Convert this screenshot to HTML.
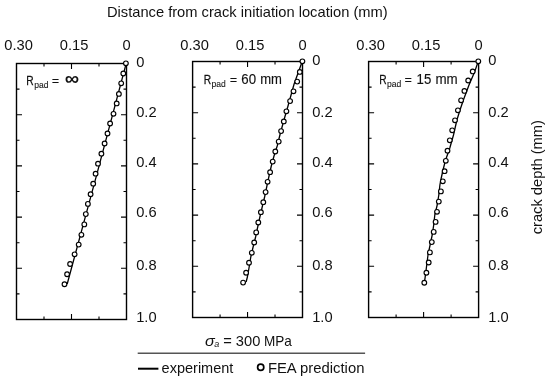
<!DOCTYPE html><html><head><meta charset="utf-8"><style>html,body{margin:0;padding:0;background:#fff;width:550px;height:379px;overflow:hidden}svg{display:block}text{font-family:"Liberation Sans", Arial, sans-serif;fill:#111}</style></head><body>
<svg width="550" height="379" viewBox="0 0 550 379">
<rect width="550" height="379" fill="#fff"/>
<text transform="translate(106.95,16.60) scale(1.0,1.045)" font-size="14.7">Distance from crack initiation location (mm)</text>
<text transform="translate(542.20,234.30) rotate(-90)" font-size="14.7">crack depth (mm)</text>
<rect x="16.5" y="63.5" width="110.00" height="256.00" fill="none" stroke="#000" stroke-width="1.4"/>
<path d="M44.00 63.5v3M44.00 319.5v-3M71.50 63.5v5.6M71.50 319.5v-5.6M99.00 63.5v3M99.00 319.5v-3M16.5 89.10h3M126.5 89.10h-3M16.5 114.70h5.5M126.5 114.70h-5.5M16.5 140.30h3M126.5 140.30h-3M16.5 165.90h5.5M126.5 165.90h-5.5M16.5 191.50h3M126.5 191.50h-3M16.5 217.10h5.5M126.5 217.10h-5.5M16.5 242.70h3M126.5 242.70h-3M16.5 268.30h5.5M126.5 268.30h-5.5M16.5 293.90h3M126.5 293.90h-3" stroke="#000" stroke-width="1.1" fill="none"/>
<text transform="translate(18.50,49.60) scale(1.0,1.045)" font-size="14.7" text-anchor="middle">0.30</text>
<text transform="translate(74.00,49.60) scale(1.0,1.045)" font-size="14.7" text-anchor="middle">0.15</text>
<text transform="translate(126.50,49.60) scale(1.0,1.045)" font-size="14.7" text-anchor="middle">0</text>
<text transform="translate(136.15,66.90) scale(1.0,1.045)" font-size="14.7">0</text>
<text transform="translate(136.15,117.00) scale(1.0,1.045)" font-size="14.7">0.2</text>
<text transform="translate(136.15,166.70) scale(1.0,1.045)" font-size="14.7">0.4</text>
<text transform="translate(136.15,217.40) scale(1.0,1.045)" font-size="14.7">0.6</text>
<text transform="translate(136.15,269.50) scale(1.0,1.045)" font-size="14.7">0.8</text>
<text transform="translate(136.15,321.50) scale(1.0,1.045)" font-size="14.7">1.0</text>
<rect x="192.6" y="61.5" width="109.90" height="256.00" fill="none" stroke="#000" stroke-width="1.4"/>
<path d="M220.07 61.5v3M220.07 317.5v-3M247.55 61.5v5.6M247.55 317.5v-5.6M275.02 61.5v3M275.02 317.5v-3M192.6 87.10h3M302.5 87.10h-3M192.6 112.70h5.5M302.5 112.70h-5.5M192.6 138.30h3M302.5 138.30h-3M192.6 163.90h5.5M302.5 163.90h-5.5M192.6 189.50h3M302.5 189.50h-3M192.6 215.10h5.5M302.5 215.10h-5.5M192.6 240.70h3M302.5 240.70h-3M192.6 266.30h5.5M302.5 266.30h-5.5M192.6 291.90h3M302.5 291.90h-3" stroke="#000" stroke-width="1.1" fill="none"/>
<text transform="translate(194.60,49.60) scale(1.0,1.045)" font-size="14.7" text-anchor="middle">0.30</text>
<text transform="translate(250.10,49.60) scale(1.0,1.045)" font-size="14.7" text-anchor="middle">0.15</text>
<text transform="translate(302.50,49.60) scale(1.0,1.045)" font-size="14.7" text-anchor="middle">0</text>
<text transform="translate(312.15,65.20) scale(1.0,1.045)" font-size="14.7">0</text>
<text transform="translate(312.15,116.80) scale(1.0,1.045)" font-size="14.7">0.2</text>
<text transform="translate(312.15,166.70) scale(1.0,1.045)" font-size="14.7">0.4</text>
<text transform="translate(312.15,217.40) scale(1.0,1.045)" font-size="14.7">0.6</text>
<text transform="translate(312.15,269.50) scale(1.0,1.045)" font-size="14.7">0.8</text>
<text transform="translate(312.15,321.50) scale(1.0,1.045)" font-size="14.7">1.0</text>
<rect x="368.6" y="61.5" width="110.00" height="256.00" fill="none" stroke="#000" stroke-width="1.4"/>
<path d="M396.10 61.5v3M396.10 317.5v-3M423.60 61.5v5.6M423.60 317.5v-5.6M451.10 61.5v3M451.10 317.5v-3M368.6 87.10h3M478.6 87.10h-3M368.6 112.70h5.5M478.6 112.70h-5.5M368.6 138.30h3M478.6 138.30h-3M368.6 163.90h5.5M478.6 163.90h-5.5M368.6 189.50h3M478.6 189.50h-3M368.6 215.10h5.5M478.6 215.10h-5.5M368.6 240.70h3M478.6 240.70h-3M368.6 266.30h5.5M478.6 266.30h-5.5M368.6 291.90h3M478.6 291.90h-3" stroke="#000" stroke-width="1.1" fill="none"/>
<text transform="translate(370.60,49.60) scale(1.0,1.045)" font-size="14.7" text-anchor="middle">0.30</text>
<text transform="translate(426.10,49.60) scale(1.0,1.045)" font-size="14.7" text-anchor="middle">0.15</text>
<text transform="translate(478.60,49.60) scale(1.0,1.045)" font-size="14.7" text-anchor="middle">0</text>
<text transform="translate(488.25,65.20) scale(1.0,1.045)" font-size="14.7">0</text>
<text transform="translate(488.25,116.80) scale(1.0,1.045)" font-size="14.7">0.2</text>
<text transform="translate(488.25,166.70) scale(1.0,1.045)" font-size="14.7">0.4</text>
<text transform="translate(488.25,217.40) scale(1.0,1.045)" font-size="14.7">0.6</text>
<text transform="translate(488.25,269.50) scale(1.0,1.045)" font-size="14.7">0.8</text>
<text transform="translate(488.25,321.50) scale(1.0,1.045)" font-size="14.7">1.0</text>
<g>
<text transform="translate(26.36,84.50) scale(0.76,1.0)" font-size="13.5" stroke="#111" stroke-width="0.25">R</text>
<text transform="translate(34.15,87.50) scale(0.93,1.0)" font-size="9.2" stroke="#111" stroke-width="0.08">pad</text>
<text transform="translate(51.68,84.80)" font-size="12.8">=</text>
<text transform="translate(64.70,84.55) scale(1.0,0.97)" font-size="20" font-weight="bold">∞</text>
<text transform="translate(203.76,83.80) scale(0.76,1.0)" font-size="13.5" stroke="#111" stroke-width="0.25">R</text>
<text transform="translate(211.55,86.80) scale(0.93,1.0)" font-size="9.2" stroke="#111" stroke-width="0.08">pad</text>
<text transform="translate(229.78,84.10)" font-size="12.8">=</text>
<text transform="translate(241.30,84.25) scale(0.935,1.0)" font-size="14.2" stroke="#111" stroke-width="0.15">60</text>
<text transform="translate(260.13,84.25) scale(0.92,1.0)" font-size="14.2" stroke="#111" stroke-width="0.15">mm</text>
<text transform="translate(379.26,83.80) scale(0.76,1.0)" font-size="13.5" stroke="#111" stroke-width="0.25">R</text>
<text transform="translate(387.05,86.80) scale(0.93,1.0)" font-size="9.2" stroke="#111" stroke-width="0.08">pad</text>
<text transform="translate(404.58,84.10)" font-size="12.8">=</text>
<text transform="translate(416.61,83.80) scale(0.93,1.0)" font-size="14.2" stroke="#111" stroke-width="0.15">15</text>
<text transform="translate(435.51,83.80) scale(0.94,1.0)" font-size="14.2" stroke="#111" stroke-width="0.15">mm</text>
</g>
<path d="M126.2,63.3 L97.0,173.7 L67.2,284" fill="none" stroke="#000" stroke-width="1.3" stroke-linejoin="round"/>
<path d="M302.3,61.3 L294.1,84 L288,106 L285.1,116 L280.4,133 L277.2,146 L274,156 L271.3,166 L268.8,177 L266.7,187 L264.6,197 L262.2,207 L259.9,217 L257.7,227 L255.6,237 L253.1,247 L250.8,257 L249.0,268 L247.4,277 L246.1,282" fill="none" stroke="#000" stroke-width="1.3" stroke-linejoin="round"/>
<path d="M478.3,61.3 L474.8,71.4 L469,85 L463.4,100 L460,110 L456.9,120 L453.5,135 L449.8,148 L445.6,160 L443,170 L440.6,181 L439.9,185 L438.8,195 L437.2,205 L434.8,215 L433.7,225 L432.2,235 L430.1,245 L428,255 L426.1,270 L424.6,281.4" fill="none" stroke="#000" stroke-width="1.3" stroke-linejoin="round"/>
<circle cx="125.9" cy="63.3" r="2.35" fill="#fff" stroke="#000" stroke-width="1.15"/>
<circle cx="123.3" cy="73.5" r="2.35" fill="#fff" stroke="#000" stroke-width="1.15"/>
<circle cx="121.2" cy="83.3" r="2.35" fill="#fff" stroke="#000" stroke-width="1.15"/>
<circle cx="118.9" cy="93.9" r="2.35" fill="#fff" stroke="#000" stroke-width="1.15"/>
<circle cx="116.7" cy="103.4" r="2.35" fill="#fff" stroke="#000" stroke-width="1.15"/>
<circle cx="113.5" cy="113.8" r="2.35" fill="#fff" stroke="#000" stroke-width="1.15"/>
<circle cx="110.1" cy="123.5" r="2.35" fill="#fff" stroke="#000" stroke-width="1.15"/>
<circle cx="107.5" cy="133.5" r="2.35" fill="#fff" stroke="#000" stroke-width="1.15"/>
<circle cx="104.6" cy="143.5" r="2.35" fill="#fff" stroke="#000" stroke-width="1.15"/>
<circle cx="101.4" cy="153.7" r="2.35" fill="#fff" stroke="#000" stroke-width="1.15"/>
<circle cx="98" cy="163.7" r="2.35" fill="#fff" stroke="#000" stroke-width="1.15"/>
<circle cx="95.6" cy="173.7" r="2.35" fill="#fff" stroke="#000" stroke-width="1.15"/>
<circle cx="93.2" cy="183.7" r="2.35" fill="#fff" stroke="#000" stroke-width="1.15"/>
<circle cx="90.6" cy="194.2" r="2.35" fill="#fff" stroke="#000" stroke-width="1.15"/>
<circle cx="87.9" cy="203.9" r="2.35" fill="#fff" stroke="#000" stroke-width="1.15"/>
<circle cx="85.8" cy="214.1" r="2.35" fill="#fff" stroke="#000" stroke-width="1.15"/>
<circle cx="84.3" cy="224.4" r="2.35" fill="#fff" stroke="#000" stroke-width="1.15"/>
<circle cx="81.4" cy="234.8" r="2.35" fill="#fff" stroke="#000" stroke-width="1.15"/>
<circle cx="78.7" cy="244.6" r="2.35" fill="#fff" stroke="#000" stroke-width="1.15"/>
<circle cx="74.6" cy="254.3" r="2.35" fill="#fff" stroke="#000" stroke-width="1.15"/>
<circle cx="70.1" cy="264" r="2.35" fill="#fff" stroke="#000" stroke-width="1.15"/>
<circle cx="67.1" cy="274.3" r="2.35" fill="#fff" stroke="#000" stroke-width="1.15"/>
<circle cx="64.5" cy="284.3" r="2.35" fill="#fff" stroke="#000" stroke-width="1.15"/>
<circle cx="302.4" cy="61.3" r="2.35" fill="#fff" stroke="#000" stroke-width="1.15"/>
<circle cx="299.8" cy="71.9" r="2.35" fill="#fff" stroke="#000" stroke-width="1.15"/>
<circle cx="297.2" cy="81.6" r="2.35" fill="#fff" stroke="#000" stroke-width="1.15"/>
<circle cx="293.5" cy="91.3" r="2.35" fill="#fff" stroke="#000" stroke-width="1.15"/>
<circle cx="290.1" cy="101.1" r="2.35" fill="#fff" stroke="#000" stroke-width="1.15"/>
<circle cx="286.4" cy="111.3" r="2.35" fill="#fff" stroke="#000" stroke-width="1.15"/>
<circle cx="283.8" cy="121.4" r="2.35" fill="#fff" stroke="#000" stroke-width="1.15"/>
<circle cx="281.1" cy="131.1" r="2.35" fill="#fff" stroke="#000" stroke-width="1.15"/>
<circle cx="278.7" cy="141.6" r="2.35" fill="#fff" stroke="#000" stroke-width="1.15"/>
<circle cx="275.3" cy="151.5" r="2.35" fill="#fff" stroke="#000" stroke-width="1.15"/>
<circle cx="272.7" cy="161.6" r="2.35" fill="#fff" stroke="#000" stroke-width="1.15"/>
<circle cx="270.1" cy="172.2" r="2.35" fill="#fff" stroke="#000" stroke-width="1.15"/>
<circle cx="267.6" cy="181.8" r="2.35" fill="#fff" stroke="#000" stroke-width="1.15"/>
<circle cx="265.6" cy="192.1" r="2.35" fill="#fff" stroke="#000" stroke-width="1.15"/>
<circle cx="263.3" cy="202.2" r="2.35" fill="#fff" stroke="#000" stroke-width="1.15"/>
<circle cx="260.9" cy="212.2" r="2.35" fill="#fff" stroke="#000" stroke-width="1.15"/>
<circle cx="258.3" cy="222.5" r="2.35" fill="#fff" stroke="#000" stroke-width="1.15"/>
<circle cx="256.2" cy="232.4" r="2.35" fill="#fff" stroke="#000" stroke-width="1.15"/>
<circle cx="254.2" cy="242.5" r="2.35" fill="#fff" stroke="#000" stroke-width="1.15"/>
<circle cx="251.8" cy="252.8" r="2.35" fill="#fff" stroke="#000" stroke-width="1.15"/>
<circle cx="249" cy="262.7" r="2.35" fill="#fff" stroke="#000" stroke-width="1.15"/>
<circle cx="246.1" cy="272.7" r="2.35" fill="#fff" stroke="#000" stroke-width="1.15"/>
<circle cx="243.1" cy="282.6" r="2.35" fill="#fff" stroke="#000" stroke-width="1.15"/>
<circle cx="478.3" cy="61.3" r="2.35" fill="#fff" stroke="#000" stroke-width="1.15"/>
<circle cx="472.7" cy="71.4" r="2.35" fill="#fff" stroke="#000" stroke-width="1.15"/>
<circle cx="468.2" cy="80.5" r="2.35" fill="#fff" stroke="#000" stroke-width="1.15"/>
<circle cx="464.4" cy="90.9" r="2.35" fill="#fff" stroke="#000" stroke-width="1.15"/>
<circle cx="461.1" cy="100.3" r="2.35" fill="#fff" stroke="#000" stroke-width="1.15"/>
<circle cx="457.9" cy="110.3" r="2.35" fill="#fff" stroke="#000" stroke-width="1.15"/>
<circle cx="455" cy="120.3" r="2.35" fill="#fff" stroke="#000" stroke-width="1.15"/>
<circle cx="452.2" cy="130.3" r="2.35" fill="#fff" stroke="#000" stroke-width="1.15"/>
<circle cx="449.8" cy="140.3" r="2.35" fill="#fff" stroke="#000" stroke-width="1.15"/>
<circle cx="447.5" cy="150.7" r="2.35" fill="#fff" stroke="#000" stroke-width="1.15"/>
<circle cx="445.8" cy="160.8" r="2.35" fill="#fff" stroke="#000" stroke-width="1.15"/>
<circle cx="444.6" cy="171.2" r="2.35" fill="#fff" stroke="#000" stroke-width="1.15"/>
<circle cx="442.8" cy="181.3" r="2.35" fill="#fff" stroke="#000" stroke-width="1.15"/>
<circle cx="440.9" cy="191.4" r="2.35" fill="#fff" stroke="#000" stroke-width="1.15"/>
<circle cx="438.8" cy="201.6" r="2.35" fill="#fff" stroke="#000" stroke-width="1.15"/>
<circle cx="437" cy="211.8" r="2.35" fill="#fff" stroke="#000" stroke-width="1.15"/>
<circle cx="435.6" cy="221.9" r="2.35" fill="#fff" stroke="#000" stroke-width="1.15"/>
<circle cx="433.7" cy="231.9" r="2.35" fill="#fff" stroke="#000" stroke-width="1.15"/>
<circle cx="431.8" cy="242.1" r="2.35" fill="#fff" stroke="#000" stroke-width="1.15"/>
<circle cx="429.9" cy="252.4" r="2.35" fill="#fff" stroke="#000" stroke-width="1.15"/>
<circle cx="428.7" cy="262.5" r="2.35" fill="#fff" stroke="#000" stroke-width="1.15"/>
<circle cx="426.4" cy="272.7" r="2.35" fill="#fff" stroke="#000" stroke-width="1.15"/>
<circle cx="424.3" cy="282.8" r="2.35" fill="#fff" stroke="#000" stroke-width="1.15"/>
<text transform="translate(205.00,345.60) scale(1.1,1.045)" font-size="14.7" font-style="italic">σ</text>
<text transform="translate(214.20,347.20)" font-size="9" font-style="italic">a</text>
<text transform="translate(223.20,345.60) scale(1.0,1.045)" font-size="14.7">= 300</text>
<text transform="translate(263.89,345.60) scale(0.924,1.045)" font-size="14.7">MPa</text>
<line x1="137.7" y1="353.2" x2="365.1" y2="353.2" stroke="#555" stroke-width="1.4"/>
<line x1="138" y1="368.7" x2="158.4" y2="368.7" stroke="#000" stroke-width="2"/>
<text transform="translate(161.60,372.60) scale(0.987,1.045)" font-size="14.7">experiment</text>
<circle cx="260.7" cy="367.3" r="3.1" fill="#fff" stroke="#000" stroke-width="1.7"/>
<text transform="translate(267.90,372.60) scale(1.01,1.0)" font-size="14.7">FEA prediction</text>
</svg></body></html>
